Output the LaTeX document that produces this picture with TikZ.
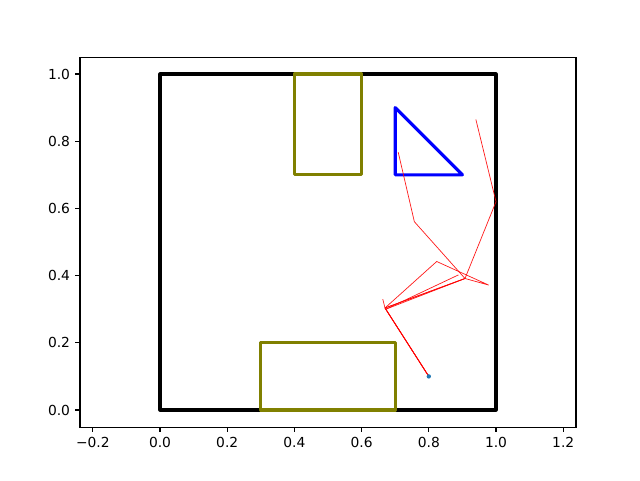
\documentclass[tikz,border=0pt]{standalone}
\usepackage{fontspec}
\setmainfont{DejaVu Sans}
\definecolor{mplolive}{HTML}{808000}
\definecolor{mplblue}{HTML}{0000FF}
\definecolor{tabblue}{HTML}{1F77B4}
\begin{document}
\begin{tikzpicture}[x=8.4cm,y=8.4cm,
  spine/.style={line width=0.79pt,black},
  tickmark/.style={line width=0.79pt,black},
  ticklab/.style={font=\fontsize{9.84}{12}\selectfont,inner sep=0pt},
  wall/.style={line width=2.2pt,black,line join=round,line cap=rect},
  obst/.style={line width=2.2pt,mplolive,line join=round,line cap=rect},
  tri/.style={line width=2.2pt,mplblue,line join=round,line cap=rect},
  trail/.style={line width=0.5pt,red,opacity=0.9,line join=round}
]
\useasboundingbox (-0.47619,-0.20833) rectangle (1.42857,1.22024);
% axes frame
\draw[spine] (-0.2381,-0.0512) rectangle (1.2381,1.0488);
% x ticks
\foreach \v/\t in {-0.2/{−0.2},0/0.0,0.2/0.2,0.4/0.4,0.6/0.6,0.8/0.8,1.0/1.0,1.2/1.2}{
  \draw[tickmark] (\v,-0.0512) -- ++(0,-0.01446);
  \node[ticklab,anchor=north] at (\v,-0.0512-0.0289) {\t};
}
% y ticks
\foreach \v/\t in {0/0.0,0.2/0.2,0.4/0.4,0.6/0.6,0.8/0.8,1.0/1.0}{
  \draw[tickmark] (-0.2381,\v) -- ++(-0.01446,0);
  \node[ticklab,anchor=east] at (-0.2381-0.0289,\v) {\t};
}
% walls
\draw[wall] (0,0) -- (1,0) -- (1,1) -- (0,1) -- cycle;
% obstacles
\draw[obst] (0.4,0.7) -- (0.6,0.7) -- (0.6,1.0) -- (0.4,1.0) -- cycle;
\draw[obst] (0.3,0) -- (0.7,0) -- (0.7,0.2) -- (0.3,0.2) -- cycle;
\draw[tri] (0.7,0.7) -- (0.9,0.7) -- (0.7,0.9) -- cycle;
% trajectory points
\coordinate (P) at (0.8,0.1);
\coordinate (A) at (0.6696,0.3036);
\coordinate (A2) at (0.672,0.300);
\coordinate (B) at (0.9077,0.3914);
\coordinate (C) at (0.8235,0.442);
\coordinate (D) at (0.9777,0.372);
\coordinate (E) at (0.757,0.5604);
\coordinate (F) at (0.709,0.767);
\coordinate (G) at (1.0,0.62);
\coordinate (H) at (0.940,0.865);
\coordinate (I) at (0.663,0.330);
\coordinate (J) at (0.888,0.402);
\draw[trail] (P) -- (A) -- (B) -- (E) -- (F);
\draw[trail] (P) -- (A2) -- (B) -- (G) -- (H);
\draw[trail] (P) -- (A) -- (C) -- (D) -- (B);
\draw[trail] (A) -- (I);
\draw[trail] (A2) -- (J);
\draw[trail] (P) -- (A2);
\draw[trail] (A) -- (B);
% start point
\fill[tabblue] (P) circle (0.0065);
\end{tikzpicture}
\end{document}
